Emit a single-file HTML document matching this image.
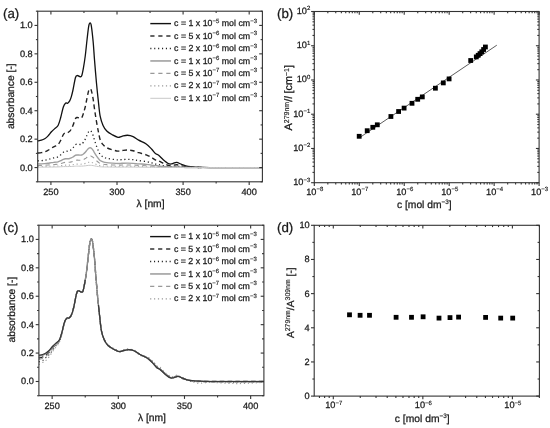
<!DOCTYPE html>
<html><head><meta charset="utf-8"><title>Absorbance spectra</title>
<style>html,body{margin:0;padding:0;background:#fff;} svg{display:block;text-rendering:geometricPrecision;filter:blur(0.35px);} text{fill:#1a1a1a;stroke:#1a1a1a;stroke-width:0.26px;} tspan[font-size]{stroke-width:0.16px;}</style>
</head><body>
<svg width="550" height="428" viewBox="0 0 550 428" font-family="Liberation Sans, Arial, sans-serif" fill="#222"><path d="M37.70,140.89 C38.32,140.77 40.23,140.53 41.40,140.17 C42.57,139.81 43.63,139.40 44.71,138.72 C45.78,138.05 46.75,137.28 47.88,136.13 C49.00,134.97 50.30,133.05 51.45,131.80 C52.59,130.55 53.65,129.68 54.75,128.62 C55.85,127.56 57.06,127.30 58.06,125.45 C59.05,123.60 59.82,120.59 60.70,117.51 C61.58,114.43 62.51,109.38 63.34,106.98 C64.18,104.57 64.99,103.71 65.72,103.08 C66.45,102.46 67.04,103.59 67.70,103.23 C68.36,102.87 69.09,101.98 69.69,100.92 C70.28,99.86 70.73,98.66 71.27,96.88 C71.81,95.10 72.22,93.46 72.93,90.24 C73.63,87.02 74.76,79.99 75.50,77.54 C76.24,75.09 76.60,75.66 77.35,75.52 C78.10,75.38 79.27,76.63 80.00,76.67 C80.72,76.72 81.14,77.28 81.71,75.81 C82.29,74.34 82.84,71.22 83.43,67.87 C84.03,64.53 84.69,60.39 85.28,55.75 C85.88,51.11 86.43,44.98 87.00,40.02 C87.57,35.07 88.19,28.89 88.72,26.03 C89.25,23.16 89.73,22.85 90.17,22.85 C90.61,22.85 90.87,22.88 91.36,26.03 C91.86,29.18 92.62,36.05 93.15,41.75 C93.68,47.45 93.99,53.39 94.54,60.22 C95.09,67.05 95.81,75.88 96.45,82.74 C97.09,89.59 97.75,95.77 98.37,101.35 C98.99,106.93 99.37,112.20 100.15,116.21 C100.94,120.23 101.96,122.97 103.06,125.45 C104.16,127.93 105.21,129.51 106.76,131.08 C108.32,132.64 110.52,133.79 112.38,134.83 C114.24,135.86 116.34,137.04 117.93,137.28 C119.52,137.52 120.31,136.61 121.90,136.27 C123.48,135.93 125.58,135.21 127.45,135.26 C129.32,135.31 131.26,135.74 133.13,136.56 C135.00,137.38 136.50,138.92 138.68,140.17 C140.86,141.42 144.04,142.55 146.22,144.06 C148.40,145.58 150.23,147.67 151.77,149.26 C153.31,150.84 154.32,152.58 155.47,153.59 C156.61,154.60 157.39,154.33 158.64,155.32 C159.90,156.30 161.35,158.11 163.00,159.50 C164.66,160.90 167.08,162.97 168.55,163.69 C170.03,164.41 170.52,164.05 171.86,163.83 C173.20,163.62 174.99,162.29 176.62,162.39 C178.25,162.48 179.75,163.74 181.64,164.41 C183.53,165.08 185.54,165.97 187.98,166.43 C190.43,166.89 192.72,166.96 196.31,167.15 C199.90,167.34 202.92,167.51 209.53,167.58 C216.14,167.66 227.15,167.58 235.96,167.58 C244.78,167.58 257.99,167.58 262.40,167.58" fill="none" stroke="#111" stroke-width="1.3"  stroke-linejoin="round" stroke-linecap="butt"/>
<path d="M37.70,153.07 C38.32,153.00 40.23,152.87 41.40,152.67 C42.57,152.48 43.63,152.25 44.71,151.89 C45.78,151.52 46.75,151.10 47.88,150.48 C49.00,149.85 50.30,148.80 51.45,148.12 C52.59,147.44 53.65,146.97 54.75,146.39 C55.85,145.82 57.06,145.68 58.06,144.67 C59.05,143.66 59.82,142.03 60.70,140.35 C61.58,138.68 62.51,135.93 63.34,134.62 C64.18,133.32 64.99,132.84 65.72,132.50 C66.45,132.16 67.04,132.78 67.70,132.58 C68.36,132.39 69.09,131.90 69.69,131.33 C70.28,130.75 70.73,130.10 71.27,129.13 C71.81,128.16 72.22,127.27 72.93,125.52 C73.63,123.77 74.76,119.95 75.50,118.61 C76.24,117.28 76.60,117.59 77.35,117.52 C78.10,117.44 79.27,118.12 80.00,118.14 C80.72,118.17 81.14,118.47 81.71,117.67 C82.29,116.87 82.84,115.17 83.43,113.36 C84.03,111.54 84.69,109.29 85.28,106.76 C85.88,104.24 86.43,100.90 87.00,98.21 C87.57,95.52 88.19,92.15 88.72,90.60 C89.25,89.04 89.73,88.87 90.17,88.87 C90.61,88.87 90.87,88.88 91.36,90.60 C91.86,92.31 92.62,96.05 93.15,99.15 C93.68,102.25 93.99,105.48 94.54,109.20 C95.09,112.91 95.81,117.71 96.45,121.44 C97.09,125.17 97.75,128.53 98.37,131.56 C98.99,134.60 99.37,137.46 100.15,139.65 C100.94,141.83 101.96,143.32 103.06,144.67 C104.16,146.02 105.21,146.88 106.76,147.73 C108.32,148.58 110.52,149.21 112.38,149.77 C114.24,150.33 116.34,150.97 117.93,151.10 C119.52,151.23 120.31,150.74 121.90,150.55 C123.48,150.37 125.58,149.98 127.45,150.00 C129.32,150.03 131.26,150.27 133.13,150.71 C135.00,151.16 136.50,151.99 138.68,152.67 C140.86,153.35 144.04,153.97 146.22,154.79 C148.40,155.62 150.23,156.75 151.77,157.62 C153.31,158.48 154.32,159.42 155.47,159.97 C156.61,160.52 157.39,160.38 158.64,160.91 C159.90,161.45 161.35,162.43 163.00,163.19 C164.66,163.95 167.08,165.07 168.55,165.46 C170.03,165.86 170.52,165.66 171.86,165.54 C173.20,165.43 174.99,164.71 176.62,164.76 C178.25,164.81 179.75,165.49 181.64,165.86 C183.53,166.22 185.54,166.71 187.98,166.96 C190.43,167.20 194.04,167.27 196.31,167.35 C198.58,167.43 200.72,167.43 201.60,167.44" fill="none" stroke="#222" stroke-width="1.4" stroke-dasharray="4.6 3.2" stroke-linejoin="round" stroke-linecap="butt"/>
<path d="M37.70,160.80 C38.32,160.77 40.23,160.71 41.40,160.61 C42.57,160.52 43.63,160.42 44.71,160.25 C45.78,160.08 46.75,159.88 47.88,159.59 C49.00,159.29 50.30,158.80 51.45,158.49 C52.59,158.17 53.65,157.95 54.75,157.68 C55.85,157.41 57.06,157.34 58.06,156.87 C59.05,156.40 59.82,155.64 60.70,154.86 C61.58,154.07 62.51,152.79 63.34,152.18 C64.18,151.57 64.99,151.35 65.72,151.19 C66.45,151.03 67.04,151.32 67.70,151.22 C68.36,151.13 69.09,150.91 69.69,150.64 C70.28,150.37 70.73,150.06 71.27,149.61 C71.81,149.16 72.22,148.74 72.93,147.92 C73.63,147.10 74.76,145.32 75.50,144.70 C76.24,144.07 76.60,144.22 77.35,144.18 C78.10,144.15 79.27,144.46 80.00,144.48 C80.72,144.49 81.14,144.63 81.71,144.26 C82.29,143.88 82.84,143.09 83.43,142.24 C84.03,141.39 84.69,140.34 85.28,139.16 C85.88,137.98 86.43,136.42 87.00,135.16 C87.57,133.90 88.19,132.33 88.72,131.60 C89.25,130.87 89.73,130.79 90.17,130.79 C90.61,130.79 90.87,130.80 91.36,131.60 C91.86,132.40 92.62,134.15 93.15,135.60 C93.68,137.05 93.99,138.56 94.54,140.29 C95.09,142.03 95.81,144.27 96.45,146.02 C97.09,147.76 97.75,149.33 98.37,150.75 C98.99,152.17 99.37,153.50 100.15,154.53 C100.94,155.55 101.96,156.24 103.06,156.87 C104.16,157.50 105.21,157.91 106.76,158.30 C108.32,158.70 110.52,158.99 112.38,159.26 C114.24,159.52 116.34,159.82 117.93,159.88 C119.52,159.94 120.31,159.71 121.90,159.62 C123.48,159.54 125.58,159.36 127.45,159.37 C129.32,159.38 131.26,159.49 133.13,159.70 C135.00,159.91 136.50,160.30 138.68,160.61 C140.86,160.93 144.04,161.22 146.22,161.60 C148.40,161.99 150.23,162.52 151.77,162.93 C153.31,163.33 154.32,163.77 155.47,164.03 C156.61,164.28 157.39,164.21 158.64,164.47 C159.90,164.72 161.35,165.17 163.00,165.53 C164.66,165.88 167.08,166.41 168.55,166.59 C170.03,166.78 170.52,166.68 171.86,166.63 C173.20,166.57 174.99,166.24 176.62,166.26 C178.25,166.29 179.75,166.61 181.64,166.78 C183.53,166.95 185.54,167.17 187.98,167.29 C190.43,167.41 194.04,167.44 196.31,167.47 C198.58,167.51 200.72,167.51 201.60,167.52" fill="none" stroke="#222" stroke-width="1.3" stroke-dasharray="1.2 2.7" stroke-linejoin="round" stroke-linecap="butt"/>
<path d="M37.70,163.93 C38.32,163.91 40.23,163.88 41.40,163.83 C42.57,163.78 43.63,163.72 44.71,163.63 C45.78,163.54 46.75,163.43 47.88,163.28 C49.00,163.12 50.30,162.85 51.45,162.68 C52.59,162.51 53.65,162.39 54.75,162.25 C55.85,162.10 57.06,162.07 58.06,161.81 C59.05,161.56 59.82,161.15 60.70,160.73 C61.58,160.30 62.51,159.61 63.34,159.28 C64.18,158.95 64.99,158.84 65.72,158.75 C66.45,158.66 67.04,158.82 67.70,158.77 C68.36,158.72 69.09,158.60 69.69,158.45 C70.28,158.31 70.73,158.14 71.27,157.90 C71.81,157.66 72.22,157.43 72.93,156.99 C73.63,156.55 74.76,155.59 75.50,155.25 C76.24,154.92 76.60,155.00 77.35,154.98 C78.10,154.96 79.27,155.13 80.00,155.13 C80.72,155.14 81.14,155.22 81.71,155.02 C82.29,154.81 82.84,154.39 83.43,153.93 C84.03,153.47 84.69,152.90 85.28,152.27 C85.88,151.63 86.43,150.79 87.00,150.11 C87.57,149.44 88.19,148.59 88.72,148.20 C89.25,147.81 89.73,147.76 90.17,147.76 C90.61,147.76 90.87,147.77 91.36,148.20 C91.86,148.63 92.62,149.57 93.15,150.35 C93.68,151.13 93.99,151.95 94.54,152.88 C95.09,153.82 95.81,155.03 96.45,155.96 C97.09,156.90 97.75,157.75 98.37,158.51 C98.99,159.28 99.37,160.00 100.15,160.55 C100.94,161.10 101.96,161.47 103.06,161.81 C104.16,162.15 105.21,162.37 106.76,162.58 C108.32,162.80 110.52,162.96 112.38,163.10 C114.24,163.24 116.34,163.40 117.93,163.43 C119.52,163.47 120.31,163.34 121.90,163.30 C123.48,163.25 125.58,163.15 127.45,163.16 C129.32,163.16 131.26,163.22 133.13,163.33 C135.00,163.45 136.50,163.66 138.68,163.83 C140.86,164.00 144.04,164.15 146.22,164.36 C148.40,164.57 150.23,164.86 151.77,165.07 C153.31,165.29 154.32,165.53 155.47,165.67 C156.61,165.80 157.39,165.77 158.64,165.90 C159.90,166.04 161.35,166.29 163.00,166.48 C164.66,166.67 167.08,166.95 168.55,167.05 C170.03,167.15 170.52,167.10 171.86,167.07 C173.20,167.04 174.99,166.86 176.62,166.87 C178.25,166.89 179.75,167.06 181.64,167.15 C183.53,167.24 185.54,167.36 187.98,167.43 C190.43,167.49 192.72,167.50 196.31,167.52 C199.90,167.55 202.92,167.57 209.53,167.58 C216.14,167.59 227.15,167.58 235.96,167.58 C244.78,167.58 257.99,167.58 262.40,167.58" fill="none" stroke="#a0a0a0" stroke-width="1.4"  stroke-linejoin="round" stroke-linecap="butt"/>
<path d="M37.70,165.43 C38.32,165.42 40.23,165.40 41.40,165.37 C42.57,165.34 43.63,165.31 44.71,165.25 C45.78,165.20 46.75,165.14 47.88,165.04 C49.00,164.95 50.30,164.79 51.45,164.69 C52.59,164.59 53.65,164.52 54.75,164.44 C55.85,164.35 57.06,164.33 58.06,164.18 C59.05,164.03 59.82,163.79 60.70,163.54 C61.58,163.29 62.51,162.88 63.34,162.69 C64.18,162.49 64.99,162.42 65.72,162.37 C66.45,162.32 67.04,162.41 67.70,162.38 C68.36,162.35 69.09,162.28 69.69,162.20 C70.28,162.11 70.73,162.01 71.27,161.87 C71.81,161.73 72.22,161.60 72.93,161.33 C73.63,161.07 74.76,160.51 75.50,160.31 C76.24,160.11 76.60,160.16 77.35,160.15 C78.10,160.13 79.27,160.24 80.00,160.24 C80.72,160.24 81.14,160.29 81.71,160.17 C82.29,160.05 82.84,159.80 83.43,159.53 C84.03,159.26 84.69,158.92 85.28,158.55 C85.88,158.17 86.43,157.68 87.00,157.28 C87.57,156.88 88.19,156.38 88.72,156.15 C89.25,155.92 89.73,155.89 90.17,155.89 C90.61,155.89 90.87,155.89 91.36,156.15 C91.86,156.40 92.62,156.96 93.15,157.42 C93.68,157.88 93.99,158.36 94.54,158.91 C95.09,159.46 95.81,160.17 96.45,160.73 C97.09,161.28 97.75,161.78 98.37,162.23 C98.99,162.68 99.37,163.11 100.15,163.43 C100.94,163.76 101.96,163.98 103.06,164.18 C104.16,164.38 105.21,164.51 106.76,164.63 C108.32,164.76 110.52,164.85 112.38,164.94 C114.24,165.02 116.34,165.12 117.93,165.14 C119.52,165.15 120.31,165.08 121.90,165.05 C123.48,165.03 125.58,164.97 127.45,164.97 C129.32,164.98 131.26,165.01 133.13,165.08 C135.00,165.14 136.50,165.27 138.68,165.37 C140.86,165.47 144.04,165.56 146.22,165.68 C148.40,165.81 150.23,165.97 151.77,166.10 C153.31,166.23 154.32,166.37 155.47,166.45 C156.61,166.53 157.39,166.51 158.64,166.59 C159.90,166.67 161.35,166.82 163.00,166.93 C164.66,167.04 167.08,167.21 168.55,167.27 C170.03,167.33 170.52,167.30 171.86,167.28 C173.20,167.26 174.99,167.16 176.62,167.16 C178.25,167.17 179.75,167.27 181.64,167.33 C183.53,167.38 185.54,167.45 187.98,167.49 C190.43,167.53 194.04,167.54 196.31,167.55 C198.58,167.56 200.72,167.56 201.60,167.56" fill="none" stroke="#999" stroke-width="1.1" stroke-dasharray="4.2 3.6" stroke-linejoin="round" stroke-linecap="butt"/>
<path d="M37.70,166.58 C38.32,166.58 40.23,166.57 41.40,166.56 C42.57,166.54 43.63,166.53 44.71,166.50 C45.78,166.48 46.75,166.45 47.88,166.41 C49.00,166.36 50.30,166.29 51.45,166.24 C52.59,166.20 53.65,166.16 54.75,166.12 C55.85,166.09 57.06,166.08 58.06,166.01 C59.05,165.94 59.82,165.82 60.70,165.71 C61.58,165.59 62.51,165.40 63.34,165.31 C64.18,165.22 64.99,165.19 65.72,165.17 C66.45,165.15 67.04,165.19 67.70,165.17 C68.36,165.16 69.09,165.13 69.69,165.09 C70.28,165.05 70.73,165.00 71.27,164.94 C71.81,164.87 72.22,164.81 72.93,164.69 C73.63,164.57 74.76,164.30 75.50,164.21 C76.24,164.12 76.60,164.14 77.35,164.14 C78.10,164.13 79.27,164.18 80.00,164.18 C80.72,164.18 81.14,164.20 81.71,164.15 C82.29,164.09 82.84,163.98 83.43,163.85 C84.03,163.73 84.69,163.57 85.28,163.40 C85.88,163.22 86.43,162.99 87.00,162.81 C87.57,162.62 88.19,162.39 88.72,162.28 C89.25,162.18 89.73,162.16 90.17,162.16 C90.61,162.16 90.87,162.17 91.36,162.28 C91.86,162.40 92.62,162.66 93.15,162.87 C93.68,163.09 93.99,163.31 94.54,163.56 C95.09,163.82 95.81,164.15 96.45,164.41 C97.09,164.66 97.75,164.89 98.37,165.10 C98.99,165.31 99.37,165.51 100.15,165.66 C100.94,165.81 101.96,165.91 103.06,166.01 C104.16,166.10 105.21,166.16 106.76,166.22 C108.32,166.28 110.52,166.32 112.38,166.36 C114.24,166.40 116.34,166.44 117.93,166.45 C119.52,166.46 120.31,166.42 121.90,166.41 C123.48,166.40 125.58,166.37 127.45,166.37 C129.32,166.38 131.26,166.39 133.13,166.42 C135.00,166.45 136.50,166.51 138.68,166.56 C140.86,166.60 144.04,166.65 146.22,166.70 C148.40,166.76 150.23,166.84 151.77,166.90 C153.31,166.96 154.32,167.02 155.47,167.06 C156.61,167.10 157.39,167.09 158.64,167.12 C159.90,167.16 161.35,167.23 163.00,167.28 C164.66,167.33 167.08,167.41 168.55,167.44 C170.03,167.46 170.52,167.45 171.86,167.44 C173.20,167.43 174.99,167.39 176.62,167.39 C178.25,167.39 179.75,167.44 181.64,167.46 C183.53,167.49 185.54,167.52 187.98,167.54 C190.43,167.56 194.04,167.56 196.31,167.57 C198.58,167.57 200.72,167.57 201.60,167.57" fill="none" stroke="#aaa" stroke-width="1.1" stroke-dasharray="1.2 2.7" stroke-linejoin="round" stroke-linecap="butt"/>
<path d="M37.70,167.16 C38.32,167.16 40.23,167.16 41.40,167.15 C42.57,167.15 43.63,167.14 44.71,167.13 C45.78,167.12 46.75,167.11 47.88,167.09 C49.00,167.07 50.30,167.04 51.45,167.02 C52.59,167.00 53.65,166.99 54.75,166.97 C55.85,166.95 57.06,166.95 58.06,166.92 C59.05,166.89 59.82,166.84 60.70,166.79 C61.58,166.75 62.51,166.67 63.34,166.63 C64.18,166.59 64.99,166.58 65.72,166.57 C66.45,166.56 67.04,166.57 67.70,166.57 C68.36,166.56 69.09,166.55 69.69,166.53 C70.28,166.52 70.73,166.50 71.27,166.47 C71.81,166.44 72.22,166.41 72.93,166.36 C73.63,166.31 74.76,166.20 75.50,166.16 C76.24,166.13 76.60,166.13 77.35,166.13 C78.10,166.13 79.27,166.15 80.00,166.15 C80.72,166.15 81.14,166.16 81.71,166.14 C82.29,166.11 82.84,166.06 83.43,166.01 C84.03,165.96 84.69,165.89 85.28,165.82 C85.88,165.75 86.43,165.65 87.00,165.57 C87.57,165.49 88.19,165.40 88.72,165.35 C89.25,165.31 89.73,165.30 90.17,165.30 C90.61,165.30 90.87,165.30 91.36,165.35 C91.86,165.40 92.62,165.51 93.15,165.60 C93.68,165.69 93.99,165.78 94.54,165.89 C95.09,166.00 95.81,166.14 96.45,166.25 C97.09,166.35 97.75,166.45 98.37,166.54 C98.99,166.63 99.37,166.71 100.15,166.77 C100.94,166.84 101.96,166.88 103.06,166.92 C104.16,166.96 105.21,166.98 106.76,167.01 C108.32,167.03 110.52,167.05 112.38,167.07 C114.24,167.08 116.34,167.10 117.93,167.11 C119.52,167.11 120.31,167.10 121.90,167.09 C123.48,167.08 125.58,167.07 127.45,167.07 C129.32,167.07 131.26,167.08 133.13,167.09 C135.00,167.11 136.50,167.13 138.68,167.15 C140.86,167.17 144.04,167.19 146.22,167.21 C148.40,167.24 150.23,167.27 151.77,167.29 C153.31,167.32 154.32,167.35 155.47,167.36 C156.61,167.38 157.39,167.37 158.64,167.39 C159.90,167.41 161.35,167.43 163.00,167.46 C164.66,167.48 167.08,167.51 168.55,167.52 C170.03,167.53 170.52,167.53 171.86,167.52 C173.20,167.52 174.99,167.50 176.62,167.50 C178.25,167.50 179.75,167.52 181.64,167.53 C183.53,167.54 185.54,167.56 187.98,167.57 C190.43,167.57 192.72,167.57 196.31,167.58 C199.90,167.58 202.92,167.58 209.53,167.58 C216.14,167.58 227.15,167.58 235.96,167.58 C244.78,167.58 257.99,167.58 262.40,167.58" fill="none" stroke="#c8c8c8" stroke-width="1.0"  stroke-linejoin="round" stroke-linecap="butt"/>
<rect x="37.70" y="11.20" width="224.70" height="170.60" fill="none" stroke="#333" stroke-width="1.1"/>
<line x1="35.90" y1="181.80" x2="37.70" y2="181.80" stroke="#333" stroke-width="1.1" />
<line x1="260.60" y1="181.80" x2="262.40" y2="181.80" stroke="#333" stroke-width="1.1" />
<line x1="34.50" y1="167.58" x2="37.70" y2="167.58" stroke="#333" stroke-width="1.1" />
<line x1="259.20" y1="167.58" x2="262.40" y2="167.58" stroke="#333" stroke-width="1.1" />
<text x="32.70" y="170.58" font-size="9.2" text-anchor="end" >0.0</text>
<line x1="35.90" y1="153.37" x2="37.70" y2="153.37" stroke="#333" stroke-width="1.1" />
<line x1="260.60" y1="153.37" x2="262.40" y2="153.37" stroke="#333" stroke-width="1.1" />
<line x1="34.50" y1="139.15" x2="37.70" y2="139.15" stroke="#333" stroke-width="1.1" />
<line x1="259.20" y1="139.15" x2="262.40" y2="139.15" stroke="#333" stroke-width="1.1" />
<text x="32.70" y="142.15" font-size="9.2" text-anchor="end" >0.2</text>
<line x1="35.90" y1="124.93" x2="37.70" y2="124.93" stroke="#333" stroke-width="1.1" />
<line x1="260.60" y1="124.93" x2="262.40" y2="124.93" stroke="#333" stroke-width="1.1" />
<line x1="34.50" y1="110.72" x2="37.70" y2="110.72" stroke="#333" stroke-width="1.1" />
<line x1="259.20" y1="110.72" x2="262.40" y2="110.72" stroke="#333" stroke-width="1.1" />
<text x="32.70" y="113.72" font-size="9.2" text-anchor="end" >0.4</text>
<line x1="35.90" y1="96.50" x2="37.70" y2="96.50" stroke="#333" stroke-width="1.1" />
<line x1="260.60" y1="96.50" x2="262.40" y2="96.50" stroke="#333" stroke-width="1.1" />
<line x1="34.50" y1="82.28" x2="37.70" y2="82.28" stroke="#333" stroke-width="1.1" />
<line x1="259.20" y1="82.28" x2="262.40" y2="82.28" stroke="#333" stroke-width="1.1" />
<text x="32.70" y="85.28" font-size="9.2" text-anchor="end" >0.6</text>
<line x1="35.90" y1="68.07" x2="37.70" y2="68.07" stroke="#333" stroke-width="1.1" />
<line x1="260.60" y1="68.07" x2="262.40" y2="68.07" stroke="#333" stroke-width="1.1" />
<line x1="34.50" y1="53.85" x2="37.70" y2="53.85" stroke="#333" stroke-width="1.1" />
<line x1="259.20" y1="53.85" x2="262.40" y2="53.85" stroke="#333" stroke-width="1.1" />
<text x="32.70" y="56.85" font-size="9.2" text-anchor="end" >0.8</text>
<line x1="35.90" y1="39.63" x2="37.70" y2="39.63" stroke="#333" stroke-width="1.1" />
<line x1="260.60" y1="39.63" x2="262.40" y2="39.63" stroke="#333" stroke-width="1.1" />
<line x1="34.50" y1="25.42" x2="37.70" y2="25.42" stroke="#333" stroke-width="1.1" />
<line x1="259.20" y1="25.42" x2="262.40" y2="25.42" stroke="#333" stroke-width="1.1" />
<text x="32.70" y="28.42" font-size="9.2" text-anchor="end" >1.0</text>
<line x1="35.90" y1="11.20" x2="37.70" y2="11.20" stroke="#333" stroke-width="1.1" />
<line x1="260.60" y1="11.20" x2="262.40" y2="11.20" stroke="#333" stroke-width="1.1" />
<line x1="50.92" y1="181.80" x2="50.92" y2="185.00" stroke="#333" stroke-width="1.1" />
<line x1="50.92" y1="11.20" x2="50.92" y2="14.40" stroke="#333" stroke-width="1.1" />
<text x="50.92" y="195.00" font-size="9.2" text-anchor="middle" >250</text>
<line x1="83.96" y1="181.80" x2="83.96" y2="183.60" stroke="#333" stroke-width="1.1" />
<line x1="83.96" y1="11.20" x2="83.96" y2="13.00" stroke="#333" stroke-width="1.1" />
<line x1="117.01" y1="181.80" x2="117.01" y2="185.00" stroke="#333" stroke-width="1.1" />
<line x1="117.01" y1="11.20" x2="117.01" y2="14.40" stroke="#333" stroke-width="1.1" />
<text x="117.01" y="195.00" font-size="9.2" text-anchor="middle" >300</text>
<line x1="150.05" y1="181.80" x2="150.05" y2="183.60" stroke="#333" stroke-width="1.1" />
<line x1="150.05" y1="11.20" x2="150.05" y2="13.00" stroke="#333" stroke-width="1.1" />
<line x1="183.09" y1="181.80" x2="183.09" y2="185.00" stroke="#333" stroke-width="1.1" />
<line x1="183.09" y1="11.20" x2="183.09" y2="14.40" stroke="#333" stroke-width="1.1" />
<text x="183.09" y="195.00" font-size="9.2" text-anchor="middle" >350</text>
<line x1="216.14" y1="181.80" x2="216.14" y2="183.60" stroke="#333" stroke-width="1.1" />
<line x1="216.14" y1="11.20" x2="216.14" y2="13.00" stroke="#333" stroke-width="1.1" />
<line x1="249.18" y1="181.80" x2="249.18" y2="185.00" stroke="#333" stroke-width="1.1" />
<line x1="249.18" y1="11.20" x2="249.18" y2="14.40" stroke="#333" stroke-width="1.1" />
<text x="249.18" y="195.00" font-size="9.2" text-anchor="middle" >400</text>
<text x="150.55" y="206.80" font-size="10.3" text-anchor="middle" >&#955; [nm]</text>
<text x="0" y="0" font-size="10.3" text-anchor="middle" transform="translate(14.200000000000003,96.2) rotate(-90)">absorbance [-]</text>
<text x="3.00" y="17.70" font-size="13.3" text-anchor="start" >(a)</text>
<line x1="150.30" y1="23.60" x2="171.00" y2="23.60" stroke="#111" stroke-width="1.4" />
<text x="174.10" y="26.20" font-size="8.8">c = 1 x 10<tspan font-size="6" dy="-3.6">&#8722;5</tspan><tspan dy="3.6"> mol cm</tspan><tspan font-size="6" dy="-3.6">&#8722;3</tspan></text>
<line x1="150.30" y1="36.05" x2="171.00" y2="36.05" stroke="#333" stroke-width="1.5" stroke-dasharray="4.2 3.8"/>
<text x="174.10" y="38.65" font-size="8.8">c = 5 x 10<tspan font-size="6" dy="-3.6">&#8722;6</tspan><tspan dy="3.6"> mol cm</tspan><tspan font-size="6" dy="-3.6">&#8722;3</tspan></text>
<line x1="150.30" y1="48.50" x2="171.00" y2="48.50" stroke="#222" stroke-width="1.3" stroke-dasharray="1.1 2.8"/>
<text x="174.10" y="51.10" font-size="8.8">c = 2 x 10<tspan font-size="6" dy="-3.6">&#8722;6</tspan><tspan dy="3.6"> mol cm</tspan><tspan font-size="6" dy="-3.6">&#8722;3</tspan></text>
<line x1="150.30" y1="60.95" x2="171.00" y2="60.95" stroke="#a0a0a0" stroke-width="1.6" />
<text x="174.10" y="63.55" font-size="8.8">c = 1 x 10<tspan font-size="6" dy="-3.6">&#8722;6</tspan><tspan dy="3.6"> mol cm</tspan><tspan font-size="6" dy="-3.6">&#8722;3</tspan></text>
<line x1="150.30" y1="73.40" x2="171.00" y2="73.40" stroke="#999" stroke-width="1.1" stroke-dasharray="4.2 3.8"/>
<text x="174.10" y="76.00" font-size="8.8">c = 5 x 10<tspan font-size="6" dy="-3.6">&#8722;7</tspan><tspan dy="3.6"> mol cm</tspan><tspan font-size="6" dy="-3.6">&#8722;3</tspan></text>
<line x1="150.30" y1="85.85" x2="171.00" y2="85.85" stroke="#999" stroke-width="1.2" stroke-dasharray="1.2 2.7"/>
<text x="174.10" y="88.45" font-size="8.8">c = 2 x 10<tspan font-size="6" dy="-3.6">&#8722;7</tspan><tspan dy="3.6"> mol cm</tspan><tspan font-size="6" dy="-3.6">&#8722;3</tspan></text>
<line x1="150.30" y1="98.30" x2="171.00" y2="98.30" stroke="#c8c8c8" stroke-width="1.0" />
<text x="174.10" y="100.90" font-size="8.8">c = 1 x 10<tspan font-size="6" dy="-3.6">&#8722;7</tspan><tspan dy="3.6"> mol cm</tspan><tspan font-size="6" dy="-3.6">&#8722;3</tspan></text>
<path d="M38.90,358.05 C39.52,357.87 41.44,357.45 42.61,356.98 C43.78,356.51 44.83,356.00 45.91,355.23 C47.00,354.46 47.97,353.61 49.09,352.36 C50.22,351.12 51.52,349.10 52.66,347.75 C53.81,346.41 54.87,345.45 55.97,344.30 C57.08,343.15 58.29,342.78 59.28,340.86 C60.27,338.94 61.05,335.90 61.93,332.78 C62.81,329.67 63.74,324.60 64.58,322.15 C65.41,319.70 66.23,318.76 66.96,318.08 C67.69,317.41 68.28,318.49 68.94,318.12 C69.61,317.75 70.33,316.89 70.93,315.85 C71.52,314.81 71.98,313.62 72.52,311.87 C73.06,310.12 73.47,308.51 74.17,305.33 C74.88,302.16 76.01,295.25 76.75,292.83 C77.49,290.42 77.86,290.98 78.61,290.84 C79.36,290.70 80.52,291.93 81.25,291.98 C81.98,292.03 82.40,292.57 82.97,291.13 C83.55,289.68 84.10,286.60 84.69,283.31 C85.29,280.02 85.95,275.95 86.55,271.38 C87.14,266.81 87.69,260.77 88.27,255.89 C88.84,251.01 89.46,244.93 89.99,242.11 C90.52,239.29 91.00,238.98 91.44,238.98 C91.89,238.98 92.14,239.01 92.64,242.11 C93.13,245.21 93.89,251.98 94.42,257.59 C94.95,263.21 95.26,269.06 95.81,275.78 C96.36,282.51 97.09,291.20 97.73,297.95 C98.37,304.70 99.03,310.78 99.65,316.28 C100.27,321.77 100.65,326.96 101.44,330.91 C102.22,334.86 103.25,337.56 104.35,340.00 C105.45,342.44 106.50,344.01 108.05,345.54 C109.61,347.08 111.82,348.22 113.68,349.24 C115.54,350.26 117.65,351.42 119.24,351.65 C120.83,351.89 121.62,350.99 123.21,350.66 C124.80,350.33 126.89,349.62 128.77,349.66 C130.64,349.71 132.58,350.14 134.46,350.94 C136.33,351.75 137.83,353.31 140.02,354.50 C142.20,355.69 145.38,356.66 147.56,358.08 C149.75,359.50 151.58,361.48 153.12,362.99 C154.66,364.51 155.68,366.20 156.83,367.17 C157.97,368.15 158.75,367.88 160.00,368.85 C161.26,369.82 162.72,371.59 164.37,372.99 C166.03,374.40 168.45,376.50 169.93,377.25 C171.41,378.01 171.89,377.68 173.24,377.52 C174.58,377.37 176.37,376.18 178.00,376.32 C179.64,376.46 181.14,377.69 183.03,378.37 C184.93,379.04 186.94,379.91 189.39,380.35 C191.83,380.80 194.13,380.88 197.72,381.07 C201.32,381.25 204.34,381.42 210.96,381.49 C217.58,381.56 228.61,381.49 237.43,381.49 C246.25,381.49 259.49,381.49 263.90,381.49" fill="none" stroke="#222" stroke-width="1.3" stroke-dasharray="4.6 3.2" stroke-linejoin="round" stroke-linecap="butt"/>
<path d="M38.90,361.83 C39.52,361.62 41.44,361.33 42.61,360.61 C43.78,359.89 44.83,358.51 45.91,357.51 C47.00,356.51 47.97,355.83 49.09,354.61 C50.22,353.39 51.52,351.71 52.66,350.19 C53.81,348.68 54.87,346.95 55.97,345.52 C57.08,344.08 58.29,343.51 59.28,341.58 C60.27,339.66 61.05,337.23 61.93,333.97 C62.81,330.72 63.74,324.59 64.58,322.05 C65.41,319.51 66.23,319.41 66.96,318.71 C67.69,318.01 68.28,318.35 68.94,317.86 C69.61,317.37 70.33,316.70 70.93,315.79 C71.52,314.88 71.98,314.22 72.52,312.40 C73.06,310.59 73.47,308.06 74.17,304.88 C74.88,301.71 76.01,295.71 76.75,293.34 C77.49,290.96 77.86,290.83 78.61,290.66 C79.36,290.49 80.52,292.18 81.25,292.29 C81.98,292.40 82.40,292.91 82.97,291.32 C83.55,289.73 84.10,286.01 84.69,282.77 C85.29,279.53 85.95,276.38 86.55,271.88 C87.14,267.39 87.69,260.82 88.27,255.79 C88.84,250.77 89.46,244.43 89.99,241.72 C90.52,239.00 91.00,239.38 91.44,239.49 C91.89,239.60 92.14,239.46 92.64,242.38 C93.13,245.31 93.89,251.43 94.42,257.04 C94.95,262.65 95.26,269.18 95.81,276.02 C96.36,282.86 97.09,291.45 97.73,298.08 C98.37,304.72 99.03,310.26 99.65,315.82 C100.27,321.39 100.65,327.53 101.44,331.47 C102.22,335.41 103.25,337.18 104.35,339.48 C105.45,341.79 106.50,343.76 108.05,345.30 C109.61,346.83 111.82,347.69 113.68,348.68 C115.54,349.67 117.65,350.97 119.24,351.21 C120.83,351.46 121.62,350.51 123.21,350.16 C124.80,349.81 126.89,349.02 128.77,349.13 C130.64,349.24 132.58,349.88 134.46,350.84 C136.33,351.79 137.83,353.76 140.02,354.85 C142.20,355.94 145.38,356.18 147.56,357.37 C149.75,358.56 151.58,360.46 153.12,361.98 C154.66,363.50 155.68,365.34 156.83,366.48 C157.97,367.62 158.75,367.77 160.00,368.81 C161.26,369.85 162.72,371.31 164.37,372.74 C166.03,374.18 168.45,376.72 169.93,377.41 C171.41,378.10 171.89,377.17 173.24,376.91 C174.58,376.65 176.37,375.66 178.00,375.85 C179.64,376.04 181.14,377.17 183.03,378.03 C184.93,378.89 186.94,380.47 189.39,381.01 C191.83,381.56 194.13,381.19 197.72,381.31 C201.32,381.42 204.34,381.56 210.96,381.70 C217.58,381.84 228.61,382.03 237.43,382.13 C246.25,382.23 259.49,382.27 263.90,382.30" fill="none" stroke="#333" stroke-width="1.2" stroke-dasharray="1.2 2.7" stroke-linejoin="round" stroke-linecap="butt"/>
<path d="M38.90,364.41 C39.52,364.10 41.44,363.20 42.61,362.53 C43.78,361.85 44.83,361.32 45.91,360.37 C47.00,359.41 47.97,358.29 49.09,356.81 C50.22,355.33 51.52,353.10 52.66,351.47 C53.81,349.84 54.87,348.54 55.97,347.05 C57.08,345.55 58.29,344.83 59.28,342.51 C60.27,340.19 61.05,336.37 61.93,333.13 C62.81,329.89 63.74,325.44 64.58,323.06 C65.41,320.68 66.23,319.79 66.96,318.85 C67.69,317.91 68.28,317.76 68.94,317.39 C69.61,317.03 70.33,317.71 70.93,316.68 C71.52,315.64 71.98,312.98 72.52,311.18 C73.06,309.38 73.47,309.06 74.17,305.87 C74.88,302.69 76.01,294.45 76.75,292.07 C77.49,289.68 77.86,291.53 78.61,291.58 C79.36,291.62 80.52,292.44 81.25,292.33 C81.98,292.22 82.40,292.38 82.97,290.90 C83.55,289.41 84.10,286.70 84.69,283.41 C85.29,280.13 85.95,275.79 86.55,271.21 C87.14,266.63 87.69,260.77 88.27,255.93 C88.84,251.09 89.46,245.12 89.99,242.20 C90.52,239.28 91.00,238.30 91.44,238.42 C91.89,238.55 92.14,239.88 92.64,242.94 C93.13,246.00 93.89,251.22 94.42,256.77 C94.95,262.32 95.26,269.49 95.81,276.26 C96.36,283.02 97.09,290.56 97.73,297.34 C98.37,304.13 99.03,311.50 99.65,316.98 C100.27,322.46 100.65,326.34 101.44,330.22 C102.22,334.10 103.25,337.67 104.35,340.24 C105.45,342.81 106.50,344.12 108.05,345.65 C109.61,347.18 111.82,348.49 113.68,349.43 C115.54,350.37 117.65,351.20 119.24,351.28 C120.83,351.36 121.62,350.04 123.21,349.91 C124.80,349.78 126.89,350.46 128.77,350.49 C130.64,350.52 132.58,349.32 134.46,350.11 C136.33,350.89 137.83,353.91 140.02,355.20 C142.20,356.49 145.38,356.76 147.56,357.84 C149.75,358.93 151.58,360.36 153.12,361.71 C154.66,363.05 155.68,365.02 156.83,365.91 C157.97,366.79 158.75,365.97 160.00,367.01 C161.26,368.06 162.72,370.71 164.37,372.19 C166.03,373.66 168.45,375.11 169.93,375.87 C171.41,376.63 171.89,376.86 173.24,376.74 C174.58,376.62 176.37,374.73 178.00,375.14 C179.64,375.55 181.14,378.31 183.03,379.20 C184.93,380.09 186.94,379.83 189.39,380.49 C191.83,381.15 194.13,382.85 197.72,383.18 C201.32,383.51 204.34,382.39 210.96,382.46 C217.58,382.53 228.61,383.64 237.43,383.62 C246.25,383.60 259.49,382.56 263.90,382.35" fill="none" stroke="#999" stroke-width="1.1" stroke-dasharray="1.2 2.7" stroke-linejoin="round" stroke-linecap="butt"/>
<path d="M38.90,359.47 C39.52,359.26 41.44,358.74 42.61,358.22 C43.78,357.69 44.83,357.13 45.91,356.31 C47.00,355.49 47.97,354.59 49.09,353.29 C50.22,351.99 51.52,349.90 52.66,348.50 C53.81,347.10 54.87,346.10 55.97,344.89 C57.08,343.69 58.29,343.25 59.28,341.28 C60.27,339.31 61.05,336.24 61.93,333.08 C62.81,329.92 63.74,324.81 64.58,322.32 C65.41,319.83 66.23,318.84 66.96,318.14 C67.69,317.44 68.28,318.50 68.94,318.12 C69.61,317.74 70.33,316.89 70.93,315.85 C71.52,314.81 71.98,313.62 72.52,311.87 C73.06,310.12 73.47,308.51 74.17,305.33 C74.88,302.16 76.01,295.25 76.75,292.83 C77.49,290.42 77.86,290.98 78.61,290.84 C79.36,290.70 80.52,291.93 81.25,291.98 C81.98,292.03 82.40,292.57 82.97,291.13 C83.55,289.68 84.10,286.60 84.69,283.31 C85.29,280.02 85.95,275.95 86.55,271.38 C87.14,266.81 87.69,260.77 88.27,255.89 C88.84,251.01 89.46,244.93 89.99,242.11 C90.52,239.29 91.00,238.98 91.44,238.98 C91.89,238.98 92.14,239.01 92.64,242.11 C93.13,245.21 93.89,251.98 94.42,257.59 C94.95,263.21 95.26,269.06 95.81,275.78 C96.36,282.51 97.09,291.20 97.73,297.95 C98.37,304.70 99.03,310.78 99.65,316.28 C100.27,321.77 100.65,326.96 101.44,330.91 C102.22,334.86 103.25,337.56 104.35,340.00 C105.45,342.44 106.50,344.01 108.05,345.54 C109.61,347.08 111.82,348.22 113.68,349.24 C115.54,350.26 117.65,351.42 119.24,351.65 C120.83,351.89 121.62,350.99 123.21,350.66 C124.80,350.33 126.89,349.62 128.77,349.66 C130.64,349.71 132.58,350.14 134.46,350.94 C136.33,351.75 137.83,353.31 140.02,354.50 C142.20,355.69 145.38,356.66 147.56,358.08 C149.75,359.50 151.58,361.48 153.12,362.99 C154.66,364.51 155.68,366.20 156.83,367.17 C157.97,368.15 158.75,367.88 160.00,368.85 C161.26,369.82 162.72,371.59 164.37,372.99 C166.03,374.40 168.45,376.50 169.93,377.25 C171.41,378.01 171.89,377.68 173.24,377.52 C174.58,377.37 176.37,376.18 178.00,376.32 C179.64,376.46 181.14,377.67 183.03,378.37 C184.93,379.06 186.94,379.94 189.39,380.51 C191.83,381.07 194.13,381.49 197.72,381.78 C201.32,382.06 204.34,382.13 210.96,382.20 C217.58,382.27 228.61,382.20 237.43,382.20 C246.25,382.20 259.49,382.20 263.90,382.20" fill="none" stroke="#999" stroke-width="1.1" stroke-dasharray="4.2 3.6" stroke-linejoin="round" stroke-linecap="butt"/>
<path d="M38.90,356.06 C39.52,355.92 41.44,355.63 42.61,355.24 C43.78,354.85 44.83,354.42 45.91,353.72 C47.00,353.03 47.97,352.24 49.09,351.07 C50.22,349.90 51.52,347.97 52.66,346.70 C53.81,345.44 54.87,344.56 55.97,343.48 C57.08,342.41 58.29,342.11 59.28,340.26 C60.27,338.41 61.05,335.42 61.93,332.37 C62.81,329.31 63.74,324.31 64.58,321.92 C65.41,319.52 66.23,318.64 66.96,318.01 C67.69,317.38 68.28,318.48 68.94,318.12 C69.61,317.76 70.33,316.89 70.93,315.85 C71.52,314.81 71.98,313.62 72.52,311.87 C73.06,310.12 73.47,308.51 74.17,305.33 C74.88,302.16 76.01,295.25 76.75,292.83 C77.49,290.42 77.86,290.98 78.61,290.84 C79.36,290.70 80.52,291.93 81.25,291.98 C81.98,292.03 82.40,292.57 82.97,291.13 C83.55,289.68 84.10,286.60 84.69,283.31 C85.29,280.02 85.95,275.95 86.55,271.38 C87.14,266.81 87.69,260.77 88.27,255.89 C88.84,251.01 89.46,244.93 89.99,242.11 C90.52,239.29 91.00,238.98 91.44,238.98 C91.89,238.98 92.14,239.01 92.64,242.11 C93.13,245.21 93.89,251.98 94.42,257.59 C94.95,263.21 95.26,269.06 95.81,275.78 C96.36,282.51 97.09,291.20 97.73,297.95 C98.37,304.70 99.03,310.78 99.65,316.28 C100.27,321.77 100.65,326.96 101.44,330.91 C102.22,334.86 103.25,337.56 104.35,340.00 C105.45,342.44 106.50,344.01 108.05,345.54 C109.61,347.08 111.82,348.22 113.68,349.24 C115.54,350.26 117.65,351.42 119.24,351.65 C120.83,351.89 121.62,350.99 123.21,350.66 C124.80,350.33 126.89,349.62 128.77,349.66 C130.64,349.71 132.58,350.14 134.46,350.94 C136.33,351.75 137.83,353.26 140.02,354.50 C142.20,355.73 145.38,356.84 147.56,358.33 C149.75,359.82 151.58,361.88 153.12,363.45 C154.66,365.01 155.68,366.72 156.83,367.71 C157.97,368.70 158.75,368.44 160.00,369.41 C161.26,370.39 162.72,372.16 164.37,373.53 C166.03,374.91 168.45,376.94 169.93,377.66 C171.41,378.37 171.89,378.01 173.24,377.80 C174.58,377.58 176.37,376.28 178.00,376.38 C179.64,376.47 181.14,377.70 183.03,378.37 C184.93,379.03 186.94,379.91 189.39,380.35 C191.83,380.80 194.13,380.88 197.72,381.07 C201.32,381.25 204.34,381.42 210.96,381.49 C217.58,381.56 228.61,381.49 237.43,381.49 C246.25,381.49 259.49,381.49 263.90,381.49" fill="none" stroke="#8a8a8a" stroke-width="1.4"  stroke-linejoin="round" stroke-linecap="butt"/>
<path d="M38.90,355.21 C39.52,355.09 41.44,354.85 42.61,354.50 C43.78,354.14 44.83,353.74 45.91,353.07 C47.00,352.41 47.97,351.65 49.09,350.52 C50.22,349.38 51.52,347.49 52.66,346.25 C53.81,345.02 54.87,344.17 55.97,343.13 C57.08,342.09 58.29,341.83 59.28,340.00 C60.27,338.18 61.05,335.22 61.93,332.19 C62.81,329.16 63.74,324.18 64.58,321.82 C65.41,319.45 66.23,318.60 66.96,317.98 C67.69,317.36 68.28,318.48 68.94,318.12 C69.61,317.77 70.33,316.89 70.93,315.85 C71.52,314.81 71.98,313.62 72.52,311.87 C73.06,310.12 73.47,308.51 74.17,305.33 C74.88,302.16 76.01,295.25 76.75,292.83 C77.49,290.42 77.86,290.98 78.61,290.84 C79.36,290.70 80.52,291.93 81.25,291.98 C81.98,292.03 82.40,292.57 82.97,291.13 C83.55,289.68 84.32,285.18 84.69,283.31 C85.07,281.44 85.14,280.47 85.22,279.90" fill="none" stroke="#383838" stroke-width="1.2"  stroke-linejoin="round" stroke-linecap="butt"/>
<path d="M98.46,304.90 C98.66,306.80 99.15,311.94 99.65,316.28 C100.15,320.61 100.65,326.96 101.44,330.91 C102.22,334.86 103.25,337.56 104.35,340.00 C105.45,342.44 106.50,344.01 108.05,345.54 C109.61,347.08 111.82,348.22 113.68,349.24 C115.54,350.26 117.65,351.42 119.24,351.65 C120.83,351.89 121.62,350.99 123.21,350.66 C124.80,350.33 126.89,349.62 128.77,349.66 C130.64,349.71 132.58,350.14 134.46,350.94 C136.33,351.75 137.83,353.26 140.02,354.50 C142.20,355.73 145.38,356.84 147.56,358.33 C149.75,359.82 151.58,361.88 153.12,363.45 C154.66,365.01 155.68,366.72 156.83,367.71 C157.97,368.70 158.75,368.44 160.00,369.41 C161.26,370.39 162.72,372.16 164.37,373.53 C166.03,374.91 168.45,376.94 169.93,377.66 C171.41,378.37 171.89,378.01 173.24,377.80 C174.58,377.58 176.37,376.28 178.00,376.38 C179.64,376.47 181.14,377.70 183.03,378.37 C184.93,379.03 186.94,379.91 189.39,380.35 C191.83,380.80 194.13,380.88 197.72,381.07 C201.32,381.25 204.34,381.42 210.96,381.49 C217.58,381.56 228.61,381.49 237.43,381.49 C246.25,381.49 259.49,381.49 263.90,381.49" fill="none" stroke="#383838" stroke-width="1.2"  stroke-linejoin="round" stroke-linecap="butt"/>
<rect x="38.90" y="225.20" width="225.00" height="170.50" fill="none" stroke="#333" stroke-width="1.1"/>
<line x1="37.10" y1="395.70" x2="38.90" y2="395.70" stroke="#333" stroke-width="1.1" />
<line x1="262.10" y1="395.70" x2="263.90" y2="395.70" stroke="#333" stroke-width="1.1" />
<line x1="35.70" y1="381.49" x2="38.90" y2="381.49" stroke="#333" stroke-width="1.1" />
<line x1="260.70" y1="381.49" x2="263.90" y2="381.49" stroke="#333" stroke-width="1.1" />
<text x="33.90" y="384.49" font-size="9.2" text-anchor="end" >0.0</text>
<line x1="37.10" y1="367.28" x2="38.90" y2="367.28" stroke="#333" stroke-width="1.1" />
<line x1="262.10" y1="367.28" x2="263.90" y2="367.28" stroke="#333" stroke-width="1.1" />
<line x1="35.70" y1="353.07" x2="38.90" y2="353.07" stroke="#333" stroke-width="1.1" />
<line x1="260.70" y1="353.07" x2="263.90" y2="353.07" stroke="#333" stroke-width="1.1" />
<text x="33.90" y="356.07" font-size="9.2" text-anchor="end" >0.2</text>
<line x1="37.10" y1="338.87" x2="38.90" y2="338.87" stroke="#333" stroke-width="1.1" />
<line x1="262.10" y1="338.87" x2="263.90" y2="338.87" stroke="#333" stroke-width="1.1" />
<line x1="35.70" y1="324.66" x2="38.90" y2="324.66" stroke="#333" stroke-width="1.1" />
<line x1="260.70" y1="324.66" x2="263.90" y2="324.66" stroke="#333" stroke-width="1.1" />
<text x="33.90" y="327.66" font-size="9.2" text-anchor="end" >0.4</text>
<line x1="37.10" y1="310.45" x2="38.90" y2="310.45" stroke="#333" stroke-width="1.1" />
<line x1="262.10" y1="310.45" x2="263.90" y2="310.45" stroke="#333" stroke-width="1.1" />
<line x1="35.70" y1="296.24" x2="38.90" y2="296.24" stroke="#333" stroke-width="1.1" />
<line x1="260.70" y1="296.24" x2="263.90" y2="296.24" stroke="#333" stroke-width="1.1" />
<text x="33.90" y="299.24" font-size="9.2" text-anchor="end" >0.6</text>
<line x1="37.10" y1="282.03" x2="38.90" y2="282.03" stroke="#333" stroke-width="1.1" />
<line x1="262.10" y1="282.03" x2="263.90" y2="282.03" stroke="#333" stroke-width="1.1" />
<line x1="35.70" y1="267.82" x2="38.90" y2="267.82" stroke="#333" stroke-width="1.1" />
<line x1="260.70" y1="267.82" x2="263.90" y2="267.82" stroke="#333" stroke-width="1.1" />
<text x="33.90" y="270.82" font-size="9.2" text-anchor="end" >0.8</text>
<line x1="37.10" y1="253.62" x2="38.90" y2="253.62" stroke="#333" stroke-width="1.1" />
<line x1="262.10" y1="253.62" x2="263.90" y2="253.62" stroke="#333" stroke-width="1.1" />
<line x1="35.70" y1="239.41" x2="38.90" y2="239.41" stroke="#333" stroke-width="1.1" />
<line x1="260.70" y1="239.41" x2="263.90" y2="239.41" stroke="#333" stroke-width="1.1" />
<text x="33.90" y="242.41" font-size="9.2" text-anchor="end" >1.0</text>
<line x1="37.10" y1="225.20" x2="38.90" y2="225.20" stroke="#333" stroke-width="1.1" />
<line x1="262.10" y1="225.20" x2="263.90" y2="225.20" stroke="#333" stroke-width="1.1" />
<line x1="52.14" y1="395.70" x2="52.14" y2="398.90" stroke="#333" stroke-width="1.1" />
<line x1="52.14" y1="225.20" x2="52.14" y2="228.40" stroke="#333" stroke-width="1.1" />
<text x="52.14" y="408.90" font-size="9.2" text-anchor="middle" >250</text>
<line x1="85.22" y1="395.70" x2="85.22" y2="397.50" stroke="#333" stroke-width="1.1" />
<line x1="85.22" y1="225.20" x2="85.22" y2="227.00" stroke="#333" stroke-width="1.1" />
<line x1="118.31" y1="395.70" x2="118.31" y2="398.90" stroke="#333" stroke-width="1.1" />
<line x1="118.31" y1="225.20" x2="118.31" y2="228.40" stroke="#333" stroke-width="1.1" />
<text x="118.31" y="408.90" font-size="9.2" text-anchor="middle" >300</text>
<line x1="151.40" y1="395.70" x2="151.40" y2="397.50" stroke="#333" stroke-width="1.1" />
<line x1="151.40" y1="225.20" x2="151.40" y2="227.00" stroke="#333" stroke-width="1.1" />
<line x1="184.49" y1="395.70" x2="184.49" y2="398.90" stroke="#333" stroke-width="1.1" />
<line x1="184.49" y1="225.20" x2="184.49" y2="228.40" stroke="#333" stroke-width="1.1" />
<text x="184.49" y="408.90" font-size="9.2" text-anchor="middle" >350</text>
<line x1="217.58" y1="395.70" x2="217.58" y2="397.50" stroke="#333" stroke-width="1.1" />
<line x1="217.58" y1="225.20" x2="217.58" y2="227.00" stroke="#333" stroke-width="1.1" />
<line x1="250.66" y1="395.70" x2="250.66" y2="398.90" stroke="#333" stroke-width="1.1" />
<line x1="250.66" y1="225.20" x2="250.66" y2="228.40" stroke="#333" stroke-width="1.1" />
<text x="250.66" y="408.90" font-size="9.2" text-anchor="middle" >400</text>
<text x="151.90" y="420.70" font-size="10.3" text-anchor="middle" >&#955; [nm]</text>
<text x="0" y="0" font-size="10.3" text-anchor="middle" transform="translate(15.399999999999999,309.65) rotate(-90)">absorbance [-]</text>
<text x="3.00" y="231.90" font-size="13.3" text-anchor="start" >(c)</text>
<line x1="150.10" y1="236.60" x2="170.80" y2="236.60" stroke="#111" stroke-width="1.4" />
<text x="173.90" y="239.20" font-size="8.8">c = 1 x 10<tspan font-size="6" dy="-3.6">&#8722;5</tspan><tspan dy="3.6"> mol cm</tspan><tspan font-size="6" dy="-3.6">&#8722;3</tspan></text>
<line x1="150.10" y1="249.05" x2="170.80" y2="249.05" stroke="#333" stroke-width="1.5" stroke-dasharray="4.2 3.8"/>
<text x="173.90" y="251.65" font-size="8.8">c = 5 x 10<tspan font-size="6" dy="-3.6">&#8722;6</tspan><tspan dy="3.6"> mol cm</tspan><tspan font-size="6" dy="-3.6">&#8722;3</tspan></text>
<line x1="150.10" y1="261.50" x2="170.80" y2="261.50" stroke="#222" stroke-width="1.3" stroke-dasharray="1.1 2.8"/>
<text x="173.90" y="264.10" font-size="8.8">c = 2 x 10<tspan font-size="6" dy="-3.6">&#8722;6</tspan><tspan dy="3.6"> mol cm</tspan><tspan font-size="6" dy="-3.6">&#8722;3</tspan></text>
<line x1="150.10" y1="273.95" x2="170.80" y2="273.95" stroke="#a0a0a0" stroke-width="1.6" />
<text x="173.90" y="276.55" font-size="8.8">c = 1 x 10<tspan font-size="6" dy="-3.6">&#8722;6</tspan><tspan dy="3.6"> mol cm</tspan><tspan font-size="6" dy="-3.6">&#8722;3</tspan></text>
<line x1="150.10" y1="286.40" x2="170.80" y2="286.40" stroke="#999" stroke-width="1.1" stroke-dasharray="4.2 3.8"/>
<text x="173.90" y="289.00" font-size="8.8">c = 5 x 10<tspan font-size="6" dy="-3.6">&#8722;7</tspan><tspan dy="3.6"> mol cm</tspan><tspan font-size="6" dy="-3.6">&#8722;3</tspan></text>
<line x1="150.10" y1="298.85" x2="170.80" y2="298.85" stroke="#999" stroke-width="1.2" stroke-dasharray="1.2 2.7"/>
<text x="173.90" y="301.45" font-size="8.8">c = 2 x 10<tspan font-size="6" dy="-3.6">&#8722;7</tspan><tspan dy="3.6"> mol cm</tspan><tspan font-size="6" dy="-3.6">&#8722;3</tspan></text>
<rect x="314.30" y="11.50" width="224.80" height="171.20" fill="none" stroke="#333" stroke-width="1.1"/>
<line x1="314.30" y1="182.70" x2="314.30" y2="185.90" stroke="#333" stroke-width="1.1" />
<line x1="314.30" y1="11.50" x2="314.30" y2="14.70" stroke="#333" stroke-width="1.1" />
<text x="314.80" y="194.70" font-size="9.2" text-anchor="middle" >10<tspan font-size="6" dy="-3.5">&#8722;8</tspan></text>
<line x1="327.83" y1="182.70" x2="327.83" y2="184.50" stroke="#333" stroke-width="1.1" />
<line x1="327.83" y1="11.50" x2="327.83" y2="13.30" stroke="#333" stroke-width="1.1" />
<line x1="335.75" y1="182.70" x2="335.75" y2="184.50" stroke="#333" stroke-width="1.1" />
<line x1="335.75" y1="11.50" x2="335.75" y2="13.30" stroke="#333" stroke-width="1.1" />
<line x1="341.37" y1="182.70" x2="341.37" y2="184.50" stroke="#333" stroke-width="1.1" />
<line x1="341.37" y1="11.50" x2="341.37" y2="13.30" stroke="#333" stroke-width="1.1" />
<line x1="345.73" y1="182.70" x2="345.73" y2="184.50" stroke="#333" stroke-width="1.1" />
<line x1="345.73" y1="11.50" x2="345.73" y2="13.30" stroke="#333" stroke-width="1.1" />
<line x1="349.29" y1="182.70" x2="349.29" y2="184.50" stroke="#333" stroke-width="1.1" />
<line x1="349.29" y1="11.50" x2="349.29" y2="13.30" stroke="#333" stroke-width="1.1" />
<line x1="352.30" y1="182.70" x2="352.30" y2="184.50" stroke="#333" stroke-width="1.1" />
<line x1="352.30" y1="11.50" x2="352.30" y2="13.30" stroke="#333" stroke-width="1.1" />
<line x1="354.90" y1="182.70" x2="354.90" y2="184.50" stroke="#333" stroke-width="1.1" />
<line x1="354.90" y1="11.50" x2="354.90" y2="13.30" stroke="#333" stroke-width="1.1" />
<line x1="357.20" y1="182.70" x2="357.20" y2="184.50" stroke="#333" stroke-width="1.1" />
<line x1="357.20" y1="11.50" x2="357.20" y2="13.30" stroke="#333" stroke-width="1.1" />
<line x1="359.26" y1="182.70" x2="359.26" y2="185.90" stroke="#333" stroke-width="1.1" />
<line x1="359.26" y1="11.50" x2="359.26" y2="14.70" stroke="#333" stroke-width="1.1" />
<text x="359.76" y="194.70" font-size="9.2" text-anchor="middle" >10<tspan font-size="6" dy="-3.5">&#8722;7</tspan></text>
<line x1="372.79" y1="182.70" x2="372.79" y2="184.50" stroke="#333" stroke-width="1.1" />
<line x1="372.79" y1="11.50" x2="372.79" y2="13.30" stroke="#333" stroke-width="1.1" />
<line x1="380.71" y1="182.70" x2="380.71" y2="184.50" stroke="#333" stroke-width="1.1" />
<line x1="380.71" y1="11.50" x2="380.71" y2="13.30" stroke="#333" stroke-width="1.1" />
<line x1="386.33" y1="182.70" x2="386.33" y2="184.50" stroke="#333" stroke-width="1.1" />
<line x1="386.33" y1="11.50" x2="386.33" y2="13.30" stroke="#333" stroke-width="1.1" />
<line x1="390.69" y1="182.70" x2="390.69" y2="184.50" stroke="#333" stroke-width="1.1" />
<line x1="390.69" y1="11.50" x2="390.69" y2="13.30" stroke="#333" stroke-width="1.1" />
<line x1="394.25" y1="182.70" x2="394.25" y2="184.50" stroke="#333" stroke-width="1.1" />
<line x1="394.25" y1="11.50" x2="394.25" y2="13.30" stroke="#333" stroke-width="1.1" />
<line x1="397.26" y1="182.70" x2="397.26" y2="184.50" stroke="#333" stroke-width="1.1" />
<line x1="397.26" y1="11.50" x2="397.26" y2="13.30" stroke="#333" stroke-width="1.1" />
<line x1="399.86" y1="182.70" x2="399.86" y2="184.50" stroke="#333" stroke-width="1.1" />
<line x1="399.86" y1="11.50" x2="399.86" y2="13.30" stroke="#333" stroke-width="1.1" />
<line x1="402.16" y1="182.70" x2="402.16" y2="184.50" stroke="#333" stroke-width="1.1" />
<line x1="402.16" y1="11.50" x2="402.16" y2="13.30" stroke="#333" stroke-width="1.1" />
<line x1="404.22" y1="182.70" x2="404.22" y2="185.90" stroke="#333" stroke-width="1.1" />
<line x1="404.22" y1="11.50" x2="404.22" y2="14.70" stroke="#333" stroke-width="1.1" />
<text x="404.72" y="194.70" font-size="9.2" text-anchor="middle" >10<tspan font-size="6" dy="-3.5">&#8722;6</tspan></text>
<line x1="417.75" y1="182.70" x2="417.75" y2="184.50" stroke="#333" stroke-width="1.1" />
<line x1="417.75" y1="11.50" x2="417.75" y2="13.30" stroke="#333" stroke-width="1.1" />
<line x1="425.67" y1="182.70" x2="425.67" y2="184.50" stroke="#333" stroke-width="1.1" />
<line x1="425.67" y1="11.50" x2="425.67" y2="13.30" stroke="#333" stroke-width="1.1" />
<line x1="431.29" y1="182.70" x2="431.29" y2="184.50" stroke="#333" stroke-width="1.1" />
<line x1="431.29" y1="11.50" x2="431.29" y2="13.30" stroke="#333" stroke-width="1.1" />
<line x1="435.65" y1="182.70" x2="435.65" y2="184.50" stroke="#333" stroke-width="1.1" />
<line x1="435.65" y1="11.50" x2="435.65" y2="13.30" stroke="#333" stroke-width="1.1" />
<line x1="439.21" y1="182.70" x2="439.21" y2="184.50" stroke="#333" stroke-width="1.1" />
<line x1="439.21" y1="11.50" x2="439.21" y2="13.30" stroke="#333" stroke-width="1.1" />
<line x1="442.22" y1="182.70" x2="442.22" y2="184.50" stroke="#333" stroke-width="1.1" />
<line x1="442.22" y1="11.50" x2="442.22" y2="13.30" stroke="#333" stroke-width="1.1" />
<line x1="444.82" y1="182.70" x2="444.82" y2="184.50" stroke="#333" stroke-width="1.1" />
<line x1="444.82" y1="11.50" x2="444.82" y2="13.30" stroke="#333" stroke-width="1.1" />
<line x1="447.12" y1="182.70" x2="447.12" y2="184.50" stroke="#333" stroke-width="1.1" />
<line x1="447.12" y1="11.50" x2="447.12" y2="13.30" stroke="#333" stroke-width="1.1" />
<line x1="449.18" y1="182.70" x2="449.18" y2="185.90" stroke="#333" stroke-width="1.1" />
<line x1="449.18" y1="11.50" x2="449.18" y2="14.70" stroke="#333" stroke-width="1.1" />
<text x="449.68" y="194.70" font-size="9.2" text-anchor="middle" >10<tspan font-size="6" dy="-3.5">&#8722;5</tspan></text>
<line x1="462.71" y1="182.70" x2="462.71" y2="184.50" stroke="#333" stroke-width="1.1" />
<line x1="462.71" y1="11.50" x2="462.71" y2="13.30" stroke="#333" stroke-width="1.1" />
<line x1="470.63" y1="182.70" x2="470.63" y2="184.50" stroke="#333" stroke-width="1.1" />
<line x1="470.63" y1="11.50" x2="470.63" y2="13.30" stroke="#333" stroke-width="1.1" />
<line x1="476.25" y1="182.70" x2="476.25" y2="184.50" stroke="#333" stroke-width="1.1" />
<line x1="476.25" y1="11.50" x2="476.25" y2="13.30" stroke="#333" stroke-width="1.1" />
<line x1="480.61" y1="182.70" x2="480.61" y2="184.50" stroke="#333" stroke-width="1.1" />
<line x1="480.61" y1="11.50" x2="480.61" y2="13.30" stroke="#333" stroke-width="1.1" />
<line x1="484.17" y1="182.70" x2="484.17" y2="184.50" stroke="#333" stroke-width="1.1" />
<line x1="484.17" y1="11.50" x2="484.17" y2="13.30" stroke="#333" stroke-width="1.1" />
<line x1="487.18" y1="182.70" x2="487.18" y2="184.50" stroke="#333" stroke-width="1.1" />
<line x1="487.18" y1="11.50" x2="487.18" y2="13.30" stroke="#333" stroke-width="1.1" />
<line x1="489.78" y1="182.70" x2="489.78" y2="184.50" stroke="#333" stroke-width="1.1" />
<line x1="489.78" y1="11.50" x2="489.78" y2="13.30" stroke="#333" stroke-width="1.1" />
<line x1="492.08" y1="182.70" x2="492.08" y2="184.50" stroke="#333" stroke-width="1.1" />
<line x1="492.08" y1="11.50" x2="492.08" y2="13.30" stroke="#333" stroke-width="1.1" />
<line x1="494.14" y1="182.70" x2="494.14" y2="185.90" stroke="#333" stroke-width="1.1" />
<line x1="494.14" y1="11.50" x2="494.14" y2="14.70" stroke="#333" stroke-width="1.1" />
<text x="494.64" y="194.70" font-size="9.2" text-anchor="middle" >10<tspan font-size="6" dy="-3.5">&#8722;4</tspan></text>
<line x1="507.67" y1="182.70" x2="507.67" y2="184.50" stroke="#333" stroke-width="1.1" />
<line x1="507.67" y1="11.50" x2="507.67" y2="13.30" stroke="#333" stroke-width="1.1" />
<line x1="515.59" y1="182.70" x2="515.59" y2="184.50" stroke="#333" stroke-width="1.1" />
<line x1="515.59" y1="11.50" x2="515.59" y2="13.30" stroke="#333" stroke-width="1.1" />
<line x1="521.21" y1="182.70" x2="521.21" y2="184.50" stroke="#333" stroke-width="1.1" />
<line x1="521.21" y1="11.50" x2="521.21" y2="13.30" stroke="#333" stroke-width="1.1" />
<line x1="525.57" y1="182.70" x2="525.57" y2="184.50" stroke="#333" stroke-width="1.1" />
<line x1="525.57" y1="11.50" x2="525.57" y2="13.30" stroke="#333" stroke-width="1.1" />
<line x1="529.13" y1="182.70" x2="529.13" y2="184.50" stroke="#333" stroke-width="1.1" />
<line x1="529.13" y1="11.50" x2="529.13" y2="13.30" stroke="#333" stroke-width="1.1" />
<line x1="532.14" y1="182.70" x2="532.14" y2="184.50" stroke="#333" stroke-width="1.1" />
<line x1="532.14" y1="11.50" x2="532.14" y2="13.30" stroke="#333" stroke-width="1.1" />
<line x1="534.74" y1="182.70" x2="534.74" y2="184.50" stroke="#333" stroke-width="1.1" />
<line x1="534.74" y1="11.50" x2="534.74" y2="13.30" stroke="#333" stroke-width="1.1" />
<line x1="537.04" y1="182.70" x2="537.04" y2="184.50" stroke="#333" stroke-width="1.1" />
<line x1="537.04" y1="11.50" x2="537.04" y2="13.30" stroke="#333" stroke-width="1.1" />
<line x1="539.10" y1="182.70" x2="539.10" y2="185.90" stroke="#333" stroke-width="1.1" />
<line x1="539.10" y1="11.50" x2="539.10" y2="14.70" stroke="#333" stroke-width="1.1" />
<text x="539.60" y="194.70" font-size="9.2" text-anchor="middle" >10<tspan font-size="6" dy="-3.5">&#8722;3</tspan></text>
<line x1="311.10" y1="182.70" x2="314.30" y2="182.70" stroke="#333" stroke-width="1.1" />
<line x1="535.90" y1="182.70" x2="539.10" y2="182.70" stroke="#333" stroke-width="1.1" />
<text x="310.30" y="185.00" font-size="9.2" text-anchor="end" >10<tspan font-size="6" dy="-3.5">&#8722;3</tspan></text>
<line x1="312.50" y1="172.39" x2="314.30" y2="172.39" stroke="#333" stroke-width="1.1" />
<line x1="537.30" y1="172.39" x2="539.10" y2="172.39" stroke="#333" stroke-width="1.1" />
<line x1="312.50" y1="166.36" x2="314.30" y2="166.36" stroke="#333" stroke-width="1.1" />
<line x1="537.30" y1="166.36" x2="539.10" y2="166.36" stroke="#333" stroke-width="1.1" />
<line x1="312.50" y1="162.09" x2="314.30" y2="162.09" stroke="#333" stroke-width="1.1" />
<line x1="537.30" y1="162.09" x2="539.10" y2="162.09" stroke="#333" stroke-width="1.1" />
<line x1="312.50" y1="158.77" x2="314.30" y2="158.77" stroke="#333" stroke-width="1.1" />
<line x1="537.30" y1="158.77" x2="539.10" y2="158.77" stroke="#333" stroke-width="1.1" />
<line x1="312.50" y1="156.06" x2="314.30" y2="156.06" stroke="#333" stroke-width="1.1" />
<line x1="537.30" y1="156.06" x2="539.10" y2="156.06" stroke="#333" stroke-width="1.1" />
<line x1="312.50" y1="153.76" x2="314.30" y2="153.76" stroke="#333" stroke-width="1.1" />
<line x1="537.30" y1="153.76" x2="539.10" y2="153.76" stroke="#333" stroke-width="1.1" />
<line x1="312.50" y1="151.78" x2="314.30" y2="151.78" stroke="#333" stroke-width="1.1" />
<line x1="537.30" y1="151.78" x2="539.10" y2="151.78" stroke="#333" stroke-width="1.1" />
<line x1="312.50" y1="150.03" x2="314.30" y2="150.03" stroke="#333" stroke-width="1.1" />
<line x1="537.30" y1="150.03" x2="539.10" y2="150.03" stroke="#333" stroke-width="1.1" />
<line x1="311.10" y1="148.46" x2="314.30" y2="148.46" stroke="#333" stroke-width="1.1" />
<line x1="535.90" y1="148.46" x2="539.10" y2="148.46" stroke="#333" stroke-width="1.1" />
<text x="310.30" y="150.76" font-size="9.2" text-anchor="end" >10<tspan font-size="6" dy="-3.5">&#8722;2</tspan></text>
<line x1="312.50" y1="138.15" x2="314.30" y2="138.15" stroke="#333" stroke-width="1.1" />
<line x1="537.30" y1="138.15" x2="539.10" y2="138.15" stroke="#333" stroke-width="1.1" />
<line x1="312.50" y1="132.12" x2="314.30" y2="132.12" stroke="#333" stroke-width="1.1" />
<line x1="537.30" y1="132.12" x2="539.10" y2="132.12" stroke="#333" stroke-width="1.1" />
<line x1="312.50" y1="127.85" x2="314.30" y2="127.85" stroke="#333" stroke-width="1.1" />
<line x1="537.30" y1="127.85" x2="539.10" y2="127.85" stroke="#333" stroke-width="1.1" />
<line x1="312.50" y1="124.53" x2="314.30" y2="124.53" stroke="#333" stroke-width="1.1" />
<line x1="537.30" y1="124.53" x2="539.10" y2="124.53" stroke="#333" stroke-width="1.1" />
<line x1="312.50" y1="121.82" x2="314.30" y2="121.82" stroke="#333" stroke-width="1.1" />
<line x1="537.30" y1="121.82" x2="539.10" y2="121.82" stroke="#333" stroke-width="1.1" />
<line x1="312.50" y1="119.52" x2="314.30" y2="119.52" stroke="#333" stroke-width="1.1" />
<line x1="537.30" y1="119.52" x2="539.10" y2="119.52" stroke="#333" stroke-width="1.1" />
<line x1="312.50" y1="117.54" x2="314.30" y2="117.54" stroke="#333" stroke-width="1.1" />
<line x1="537.30" y1="117.54" x2="539.10" y2="117.54" stroke="#333" stroke-width="1.1" />
<line x1="312.50" y1="115.79" x2="314.30" y2="115.79" stroke="#333" stroke-width="1.1" />
<line x1="537.30" y1="115.79" x2="539.10" y2="115.79" stroke="#333" stroke-width="1.1" />
<line x1="311.10" y1="114.22" x2="314.30" y2="114.22" stroke="#333" stroke-width="1.1" />
<line x1="535.90" y1="114.22" x2="539.10" y2="114.22" stroke="#333" stroke-width="1.1" />
<text x="310.30" y="116.52" font-size="9.2" text-anchor="end" >10<tspan font-size="6" dy="-3.5">&#8722;1</tspan></text>
<line x1="312.50" y1="103.91" x2="314.30" y2="103.91" stroke="#333" stroke-width="1.1" />
<line x1="537.30" y1="103.91" x2="539.10" y2="103.91" stroke="#333" stroke-width="1.1" />
<line x1="312.50" y1="97.88" x2="314.30" y2="97.88" stroke="#333" stroke-width="1.1" />
<line x1="537.30" y1="97.88" x2="539.10" y2="97.88" stroke="#333" stroke-width="1.1" />
<line x1="312.50" y1="93.61" x2="314.30" y2="93.61" stroke="#333" stroke-width="1.1" />
<line x1="537.30" y1="93.61" x2="539.10" y2="93.61" stroke="#333" stroke-width="1.1" />
<line x1="312.50" y1="90.29" x2="314.30" y2="90.29" stroke="#333" stroke-width="1.1" />
<line x1="537.30" y1="90.29" x2="539.10" y2="90.29" stroke="#333" stroke-width="1.1" />
<line x1="312.50" y1="87.58" x2="314.30" y2="87.58" stroke="#333" stroke-width="1.1" />
<line x1="537.30" y1="87.58" x2="539.10" y2="87.58" stroke="#333" stroke-width="1.1" />
<line x1="312.50" y1="85.28" x2="314.30" y2="85.28" stroke="#333" stroke-width="1.1" />
<line x1="537.30" y1="85.28" x2="539.10" y2="85.28" stroke="#333" stroke-width="1.1" />
<line x1="312.50" y1="83.30" x2="314.30" y2="83.30" stroke="#333" stroke-width="1.1" />
<line x1="537.30" y1="83.30" x2="539.10" y2="83.30" stroke="#333" stroke-width="1.1" />
<line x1="312.50" y1="81.55" x2="314.30" y2="81.55" stroke="#333" stroke-width="1.1" />
<line x1="537.30" y1="81.55" x2="539.10" y2="81.55" stroke="#333" stroke-width="1.1" />
<line x1="311.10" y1="79.98" x2="314.30" y2="79.98" stroke="#333" stroke-width="1.1" />
<line x1="535.90" y1="79.98" x2="539.10" y2="79.98" stroke="#333" stroke-width="1.1" />
<text x="310.30" y="82.28" font-size="9.2" text-anchor="end" >10<tspan font-size="6" dy="-3.5">0</tspan></text>
<line x1="312.50" y1="69.67" x2="314.30" y2="69.67" stroke="#333" stroke-width="1.1" />
<line x1="537.30" y1="69.67" x2="539.10" y2="69.67" stroke="#333" stroke-width="1.1" />
<line x1="312.50" y1="63.64" x2="314.30" y2="63.64" stroke="#333" stroke-width="1.1" />
<line x1="537.30" y1="63.64" x2="539.10" y2="63.64" stroke="#333" stroke-width="1.1" />
<line x1="312.50" y1="59.37" x2="314.30" y2="59.37" stroke="#333" stroke-width="1.1" />
<line x1="537.30" y1="59.37" x2="539.10" y2="59.37" stroke="#333" stroke-width="1.1" />
<line x1="312.50" y1="56.05" x2="314.30" y2="56.05" stroke="#333" stroke-width="1.1" />
<line x1="537.30" y1="56.05" x2="539.10" y2="56.05" stroke="#333" stroke-width="1.1" />
<line x1="312.50" y1="53.34" x2="314.30" y2="53.34" stroke="#333" stroke-width="1.1" />
<line x1="537.30" y1="53.34" x2="539.10" y2="53.34" stroke="#333" stroke-width="1.1" />
<line x1="312.50" y1="51.04" x2="314.30" y2="51.04" stroke="#333" stroke-width="1.1" />
<line x1="537.30" y1="51.04" x2="539.10" y2="51.04" stroke="#333" stroke-width="1.1" />
<line x1="312.50" y1="49.06" x2="314.30" y2="49.06" stroke="#333" stroke-width="1.1" />
<line x1="537.30" y1="49.06" x2="539.10" y2="49.06" stroke="#333" stroke-width="1.1" />
<line x1="312.50" y1="47.31" x2="314.30" y2="47.31" stroke="#333" stroke-width="1.1" />
<line x1="537.30" y1="47.31" x2="539.10" y2="47.31" stroke="#333" stroke-width="1.1" />
<line x1="311.10" y1="45.74" x2="314.30" y2="45.74" stroke="#333" stroke-width="1.1" />
<line x1="535.90" y1="45.74" x2="539.10" y2="45.74" stroke="#333" stroke-width="1.1" />
<text x="310.30" y="48.04" font-size="9.2" text-anchor="end" >10<tspan font-size="6" dy="-3.5">1</tspan></text>
<line x1="312.50" y1="35.43" x2="314.30" y2="35.43" stroke="#333" stroke-width="1.1" />
<line x1="537.30" y1="35.43" x2="539.10" y2="35.43" stroke="#333" stroke-width="1.1" />
<line x1="312.50" y1="29.40" x2="314.30" y2="29.40" stroke="#333" stroke-width="1.1" />
<line x1="537.30" y1="29.40" x2="539.10" y2="29.40" stroke="#333" stroke-width="1.1" />
<line x1="312.50" y1="25.13" x2="314.30" y2="25.13" stroke="#333" stroke-width="1.1" />
<line x1="537.30" y1="25.13" x2="539.10" y2="25.13" stroke="#333" stroke-width="1.1" />
<line x1="312.50" y1="21.81" x2="314.30" y2="21.81" stroke="#333" stroke-width="1.1" />
<line x1="537.30" y1="21.81" x2="539.10" y2="21.81" stroke="#333" stroke-width="1.1" />
<line x1="312.50" y1="19.10" x2="314.30" y2="19.10" stroke="#333" stroke-width="1.1" />
<line x1="537.30" y1="19.10" x2="539.10" y2="19.10" stroke="#333" stroke-width="1.1" />
<line x1="312.50" y1="16.80" x2="314.30" y2="16.80" stroke="#333" stroke-width="1.1" />
<line x1="537.30" y1="16.80" x2="539.10" y2="16.80" stroke="#333" stroke-width="1.1" />
<line x1="312.50" y1="14.82" x2="314.30" y2="14.82" stroke="#333" stroke-width="1.1" />
<line x1="537.30" y1="14.82" x2="539.10" y2="14.82" stroke="#333" stroke-width="1.1" />
<line x1="312.50" y1="13.07" x2="314.30" y2="13.07" stroke="#333" stroke-width="1.1" />
<line x1="537.30" y1="13.07" x2="539.10" y2="13.07" stroke="#333" stroke-width="1.1" />
<line x1="311.10" y1="11.50" x2="314.30" y2="11.50" stroke="#333" stroke-width="1.1" />
<line x1="535.90" y1="11.50" x2="539.10" y2="11.50" stroke="#333" stroke-width="1.1" />
<text x="310.30" y="13.80" font-size="9.2" text-anchor="end" >10<tspan font-size="6" dy="-3.5">2</tspan></text>
<line x1="360.40" y1="137.10" x2="496.80" y2="45.20" stroke="#333" stroke-width="0.8" />
<rect x="356.80" y="133.90" width="4.8" height="4.8" fill="#000"/>
<rect x="364.80" y="128.30" width="4.8" height="4.8" fill="#000"/>
<rect x="370.40" y="124.90" width="4.8" height="4.8" fill="#000"/>
<rect x="374.90" y="122.40" width="4.8" height="4.8" fill="#000"/>
<rect x="388.50" y="114.10" width="4.8" height="4.8" fill="#000"/>
<rect x="396.20" y="109.10" width="4.8" height="4.8" fill="#000"/>
<rect x="401.70" y="105.70" width="4.8" height="4.8" fill="#000"/>
<rect x="409.60" y="100.90" width="4.8" height="4.8" fill="#000"/>
<rect x="415.30" y="96.90" width="4.8" height="4.8" fill="#000"/>
<rect x="419.90" y="94.50" width="4.8" height="4.8" fill="#000"/>
<rect x="433.00" y="85.80" width="4.8" height="4.8" fill="#000"/>
<rect x="440.90" y="80.50" width="4.8" height="4.8" fill="#000"/>
<rect x="446.70" y="76.50" width="4.8" height="4.8" fill="#000"/>
<rect x="468.30" y="58.10" width="4.8" height="4.8" fill="#000"/>
<rect x="473.90" y="54.50" width="4.8" height="4.8" fill="#000"/>
<rect x="475.80" y="52.90" width="4.8" height="4.8" fill="#000"/>
<rect x="477.60" y="51.20" width="4.8" height="4.8" fill="#000"/>
<rect x="479.40" y="49.40" width="4.8" height="4.8" fill="#000"/>
<rect x="481.20" y="47.10" width="4.8" height="4.8" fill="#000"/>
<rect x="483.00" y="44.60" width="4.8" height="4.8" fill="#000"/>
<text x="424.30" y="208.20" font-size="10.3" text-anchor="middle" >c [mol dm<tspan font-size="6.3" dy="-4">&#8722;3</tspan><tspan dy="4">]</tspan></text>
<text x="0" y="0" font-size="10.8" text-anchor="middle" transform="translate(292.4,97.7) rotate(-90)">A<tspan font-size="7" dy="-3.8">279nm</tspan><tspan dy="3.8">/</tspan><tspan font-style="italic">l</tspan> [cm<tspan font-size="7" dy="-3.6">&#8722;1</tspan><tspan dy="3.6">]</tspan></text>
<text x="277.00" y="18.10" font-size="13.3" text-anchor="start" >(b)</text>
<rect x="314.20" y="225.30" width="225.20" height="170.80" fill="none" stroke="#333" stroke-width="1.1"/>
<line x1="333.30" y1="396.10" x2="333.30" y2="399.30" stroke="#333" stroke-width="1.1" />
<line x1="333.30" y1="225.30" x2="333.30" y2="228.50" stroke="#333" stroke-width="1.1" />
<text x="333.80" y="408.10" font-size="9.2" text-anchor="middle" >10<tspan font-size="6" dy="-3.5">&#8722;7</tspan></text>
<line x1="422.85" y1="396.10" x2="422.85" y2="399.30" stroke="#333" stroke-width="1.1" />
<line x1="422.85" y1="225.30" x2="422.85" y2="228.50" stroke="#333" stroke-width="1.1" />
<text x="423.35" y="408.10" font-size="9.2" text-anchor="middle" >10<tspan font-size="6" dy="-3.5">&#8722;6</tspan></text>
<line x1="512.40" y1="396.10" x2="512.40" y2="399.30" stroke="#333" stroke-width="1.1" />
<line x1="512.40" y1="225.30" x2="512.40" y2="228.50" stroke="#333" stroke-width="1.1" />
<text x="512.90" y="408.10" font-size="9.2" text-anchor="middle" >10<tspan font-size="6" dy="-3.5">&#8722;5</tspan></text>
<line x1="319.43" y1="396.10" x2="319.43" y2="397.90" stroke="#333" stroke-width="1.1" />
<line x1="319.43" y1="225.30" x2="319.43" y2="227.10" stroke="#333" stroke-width="1.1" />
<line x1="324.62" y1="396.10" x2="324.62" y2="397.90" stroke="#333" stroke-width="1.1" />
<line x1="324.62" y1="225.30" x2="324.62" y2="227.10" stroke="#333" stroke-width="1.1" />
<line x1="329.20" y1="396.10" x2="329.20" y2="397.90" stroke="#333" stroke-width="1.1" />
<line x1="329.20" y1="225.30" x2="329.20" y2="227.10" stroke="#333" stroke-width="1.1" />
<line x1="360.26" y1="396.10" x2="360.26" y2="397.90" stroke="#333" stroke-width="1.1" />
<line x1="360.26" y1="225.30" x2="360.26" y2="227.10" stroke="#333" stroke-width="1.1" />
<line x1="376.03" y1="396.10" x2="376.03" y2="397.90" stroke="#333" stroke-width="1.1" />
<line x1="376.03" y1="225.30" x2="376.03" y2="227.10" stroke="#333" stroke-width="1.1" />
<line x1="387.21" y1="396.10" x2="387.21" y2="397.90" stroke="#333" stroke-width="1.1" />
<line x1="387.21" y1="225.30" x2="387.21" y2="227.10" stroke="#333" stroke-width="1.1" />
<line x1="395.89" y1="396.10" x2="395.89" y2="397.90" stroke="#333" stroke-width="1.1" />
<line x1="395.89" y1="225.30" x2="395.89" y2="227.10" stroke="#333" stroke-width="1.1" />
<line x1="402.98" y1="396.10" x2="402.98" y2="397.90" stroke="#333" stroke-width="1.1" />
<line x1="402.98" y1="225.30" x2="402.98" y2="227.10" stroke="#333" stroke-width="1.1" />
<line x1="408.98" y1="396.10" x2="408.98" y2="397.90" stroke="#333" stroke-width="1.1" />
<line x1="408.98" y1="225.30" x2="408.98" y2="227.10" stroke="#333" stroke-width="1.1" />
<line x1="414.17" y1="396.10" x2="414.17" y2="397.90" stroke="#333" stroke-width="1.1" />
<line x1="414.17" y1="225.30" x2="414.17" y2="227.10" stroke="#333" stroke-width="1.1" />
<line x1="418.75" y1="396.10" x2="418.75" y2="397.90" stroke="#333" stroke-width="1.1" />
<line x1="418.75" y1="225.30" x2="418.75" y2="227.10" stroke="#333" stroke-width="1.1" />
<line x1="449.81" y1="396.10" x2="449.81" y2="397.90" stroke="#333" stroke-width="1.1" />
<line x1="449.81" y1="225.30" x2="449.81" y2="227.10" stroke="#333" stroke-width="1.1" />
<line x1="465.58" y1="396.10" x2="465.58" y2="397.90" stroke="#333" stroke-width="1.1" />
<line x1="465.58" y1="225.30" x2="465.58" y2="227.10" stroke="#333" stroke-width="1.1" />
<line x1="476.76" y1="396.10" x2="476.76" y2="397.90" stroke="#333" stroke-width="1.1" />
<line x1="476.76" y1="225.30" x2="476.76" y2="227.10" stroke="#333" stroke-width="1.1" />
<line x1="485.44" y1="396.10" x2="485.44" y2="397.90" stroke="#333" stroke-width="1.1" />
<line x1="485.44" y1="225.30" x2="485.44" y2="227.10" stroke="#333" stroke-width="1.1" />
<line x1="492.53" y1="396.10" x2="492.53" y2="397.90" stroke="#333" stroke-width="1.1" />
<line x1="492.53" y1="225.30" x2="492.53" y2="227.10" stroke="#333" stroke-width="1.1" />
<line x1="498.53" y1="396.10" x2="498.53" y2="397.90" stroke="#333" stroke-width="1.1" />
<line x1="498.53" y1="225.30" x2="498.53" y2="227.10" stroke="#333" stroke-width="1.1" />
<line x1="503.72" y1="396.10" x2="503.72" y2="397.90" stroke="#333" stroke-width="1.1" />
<line x1="503.72" y1="225.30" x2="503.72" y2="227.10" stroke="#333" stroke-width="1.1" />
<line x1="508.30" y1="396.10" x2="508.30" y2="397.90" stroke="#333" stroke-width="1.1" />
<line x1="508.30" y1="225.30" x2="508.30" y2="227.10" stroke="#333" stroke-width="1.1" />
<line x1="539.36" y1="396.10" x2="539.36" y2="397.90" stroke="#333" stroke-width="1.1" />
<line x1="539.36" y1="225.30" x2="539.36" y2="227.10" stroke="#333" stroke-width="1.1" />
<line x1="311.00" y1="396.10" x2="314.20" y2="396.10" stroke="#333" stroke-width="1.1" />
<line x1="536.20" y1="396.10" x2="539.40" y2="396.10" stroke="#333" stroke-width="1.1" />
<text x="309.70" y="399.10" font-size="9.2" text-anchor="end" >0</text>
<line x1="312.40" y1="379.02" x2="314.20" y2="379.02" stroke="#333" stroke-width="1.1" />
<line x1="537.60" y1="379.02" x2="539.40" y2="379.02" stroke="#333" stroke-width="1.1" />
<line x1="311.00" y1="361.94" x2="314.20" y2="361.94" stroke="#333" stroke-width="1.1" />
<line x1="536.20" y1="361.94" x2="539.40" y2="361.94" stroke="#333" stroke-width="1.1" />
<text x="309.70" y="364.94" font-size="9.2" text-anchor="end" >2</text>
<line x1="312.40" y1="344.86" x2="314.20" y2="344.86" stroke="#333" stroke-width="1.1" />
<line x1="537.60" y1="344.86" x2="539.40" y2="344.86" stroke="#333" stroke-width="1.1" />
<line x1="311.00" y1="327.78" x2="314.20" y2="327.78" stroke="#333" stroke-width="1.1" />
<line x1="536.20" y1="327.78" x2="539.40" y2="327.78" stroke="#333" stroke-width="1.1" />
<text x="309.70" y="330.78" font-size="9.2" text-anchor="end" >4</text>
<line x1="312.40" y1="310.70" x2="314.20" y2="310.70" stroke="#333" stroke-width="1.1" />
<line x1="537.60" y1="310.70" x2="539.40" y2="310.70" stroke="#333" stroke-width="1.1" />
<line x1="311.00" y1="293.62" x2="314.20" y2="293.62" stroke="#333" stroke-width="1.1" />
<line x1="536.20" y1="293.62" x2="539.40" y2="293.62" stroke="#333" stroke-width="1.1" />
<text x="309.70" y="296.62" font-size="9.2" text-anchor="end" >6</text>
<line x1="312.40" y1="276.54" x2="314.20" y2="276.54" stroke="#333" stroke-width="1.1" />
<line x1="537.60" y1="276.54" x2="539.40" y2="276.54" stroke="#333" stroke-width="1.1" />
<line x1="311.00" y1="259.46" x2="314.20" y2="259.46" stroke="#333" stroke-width="1.1" />
<line x1="536.20" y1="259.46" x2="539.40" y2="259.46" stroke="#333" stroke-width="1.1" />
<text x="309.70" y="262.46" font-size="9.2" text-anchor="end" >8</text>
<line x1="312.40" y1="242.38" x2="314.20" y2="242.38" stroke="#333" stroke-width="1.1" />
<line x1="537.60" y1="242.38" x2="539.40" y2="242.38" stroke="#333" stroke-width="1.1" />
<line x1="311.00" y1="225.30" x2="314.20" y2="225.30" stroke="#333" stroke-width="1.1" />
<line x1="536.20" y1="225.30" x2="539.40" y2="225.30" stroke="#333" stroke-width="1.1" />
<text x="309.70" y="228.30" font-size="9.2" text-anchor="end" >10</text>
<rect x="347.10" y="312.40" width="4.8" height="4.8" fill="#000"/>
<rect x="357.70" y="312.90" width="4.8" height="4.8" fill="#000"/>
<rect x="367.10" y="312.90" width="4.8" height="4.8" fill="#000"/>
<rect x="393.70" y="314.90" width="4.8" height="4.8" fill="#000"/>
<rect x="409.10" y="314.90" width="4.8" height="4.8" fill="#000"/>
<rect x="420.70" y="314.40" width="4.8" height="4.8" fill="#000"/>
<rect x="436.60" y="315.70" width="4.8" height="4.8" fill="#000"/>
<rect x="447.60" y="315.20" width="4.8" height="4.8" fill="#000"/>
<rect x="456.20" y="314.70" width="4.8" height="4.8" fill="#000"/>
<rect x="483.20" y="315.00" width="4.8" height="4.8" fill="#000"/>
<rect x="498.30" y="315.70" width="4.8" height="4.8" fill="#000"/>
<rect x="510.30" y="315.70" width="4.8" height="4.8" fill="#000"/>
<text x="422.20" y="421.60" font-size="10.3" text-anchor="middle" >c [mol dm<tspan font-size="6.3" dy="-4">&#8722;3</tspan><tspan dy="4">]</tspan></text>
<text x="0" y="0" font-size="10.3" text-anchor="middle" transform="translate(293.6,302.7) rotate(-90)">A<tspan font-size="6.9" dy="-3.8">279nm</tspan><tspan dy="3.8">/A</tspan><tspan font-size="6.9" dy="-3.8">309nm</tspan><tspan dy="3.8"> [-]</tspan></text>
<text x="277.00" y="231.60" font-size="13.3" text-anchor="start" >(d)</text></svg>
</body></html>
